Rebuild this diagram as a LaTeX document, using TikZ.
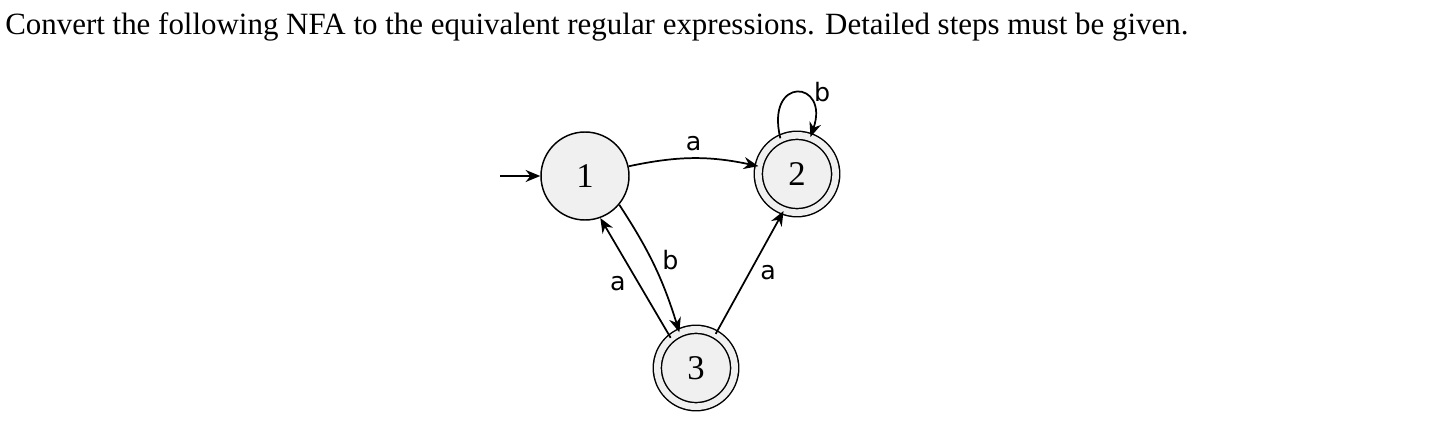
\documentclass[tikz,border=0pt]{standalone}
\usepackage{fontspec}
\setmainfont{Liberation Serif}
\newfontfamily\lblfont{DejaVu Sans}
\usetikzlibrary{arrows.meta}
\begin{document}
\begin{tikzpicture}[x=0.75pt,y=-0.75pt,
  st/.style={circle,draw,line width=1.1pt,fill=gray!12,minimum size=66pt,inner sep=0pt,font=\fontsize{26}{28}\selectfont},
  acc/.style={st,double=gray!12,double distance=5pt,minimum size=58pt},
  lbl/.style={font=\lblfont\fontsize{19}{21}\selectfont},
  edge/.style={line width=1.3pt,-{Stealth[length=11pt,width=9pt]}}]
\useasboundingbox (0,0) rectangle (1435,428);
\node[anchor=base west,font=\fontsize{23.2}{26}\selectfont,inner sep=0pt] (title) at (5,35) {Convert the following NFA to the equivalent regular expressions. Detailed steps must be given.};
\node[st] (n1) at (585,176) {1};
\node[acc] (n2) at (797,174) {2};
\node[acc] (n3) at (696,368) {3};
\coordinate (s) at (500,176);
\draw[edge] (s) -- (n1);
\draw[edge] (n1) to[bend left=12] node[lbl,above,yshift=2pt]{a} (n2);
\draw[edge] (n2.115) .. controls (765,75) and (830,80) .. node[lbl,pos=0.75,above right,inner sep=1pt]{b} (n2.70);
\draw[edge] (n1.-40) to[bend left=8] node[lbl,right,pos=0.45,xshift=4pt]{b} (n3.115);
\draw[edge] (n3.130) -- node[lbl,left,pos=0.45,xshift=-6pt]{a} (n1.-70);
\draw[edge] (n3.60) -- node[lbl,right,pos=0.5,xshift=4pt]{a} (n2.-110);
\end{tikzpicture}
\end{document}
